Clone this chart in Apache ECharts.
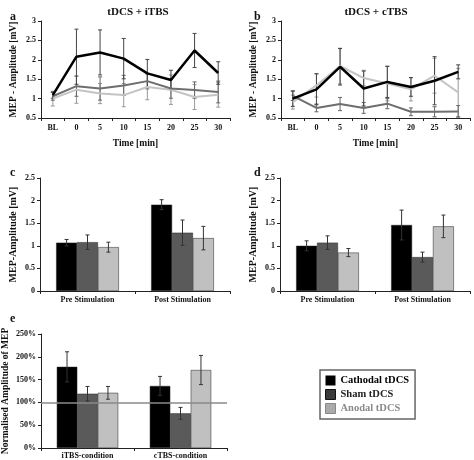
<!DOCTYPE html>
<html>
<head>
<meta charset="utf-8">
<script src="https://cdn.jsdelivr.net/npm/echarts@6/dist/echarts.min.js"></script>
<style>
html, body { margin: 0; padding: 0; background: #fff; }
#main { width: 474px; height: 460px; }
</style>
</head>
<body>
<div id="main"></div>
<script>
var timeLabels = ['BL', '0', '5', '10', '15', '20', '25', '30'];
var groupNames = ['Cathodal tDCS', 'Sham tDCS', 'Anodal tDCS'];

// a: tDCS + iTBS
var aCath = [1.09, 2.08, 2.19, 2.03, 1.65, 1.48, 2.24, 1.66];
var aCathErr = [0.08, 0.71, 0.58, 0.52, 0.36, 0.25, 0.44, 0.29];
var aSham = [1.06, 1.32, 1.26, 1.34, 1.45, 1.26, 1.22, 1.17];
var aShamErr = [0.1, 0.26, 0.3, 0.26, 0.2, 0.25, 0.21, 0.28];
var aAnod = [1.0, 1.23, 1.13, 1.09, 1.3, 1.23, 1.04, 1.1];
var aAnodErr = [0.19, 0.35, 0.26, 0.3, 0.33, 0.38, 0.32, 0.32];

// b: tDCS + cTBS
var bCath = [1.0, 1.24, 1.82, 1.26, 1.43, 1.3, 1.46, 1.69];
var bCathErr = [0.2, 0.4, 0.47, 0.45, 0.4, 0.24, 0.62, 0.18];
var bSham = [1.07, 0.76, 0.86, 0.76, 0.87, 0.66, 0.66, 0.67];
var bShamErr = [0.12, 0.1, 0.17, 0.14, 0.13, 0.1, 0.13, 0.15];
var bAnod = [0.91, 1.34, 1.84, 1.53, 1.39, 1.24, 1.59, 1.16];
var bAnodErr = [0.18, 0.3, 0.46, 0.2, 0.45, 0.3, 0.45, 0.62];

// c, d: pre / post
var stimLabels = ['Pre Stimulation', 'Post Stimulation'];
var cCath = [1.07, 1.91], cCathErr = [0.07, 0.11];
var cSham = [1.08, 1.29], cShamErr = [0.16, 0.28];
var cAnod = [0.97, 1.17], cAnodErr = [0.11, 0.26];
var dCath = [1.0, 1.46], dCathErr = [0.11, 0.33];
var dSham = [1.07, 0.75], dShamErr = [0.15, 0.11];
var dAnod = [0.85, 1.43], dAnodErr = [0.09, 0.25];

// e: normalised
var condLabels = ['iTBS-condition', 'cTBS-condition'];
var eCath = [178, 136], eCathErr = [33, 21];
var eSham = [119, 76], eShamErr = [16, 13];
var eAnod = [121, 171], eAnodErr = [14, 32];

var FONT = 'Liberation Serif';
var lineColors = ['#000000', '#6e6e6e', '#c4c4c4'];
var barColors = ['#000000', '#5a5a5a', '#c0c0c0'];

var dom = document.getElementById('main');
var myChart = echarts.init(dom);

function errSeries(grid, vals, errs, color, offset) {
    return {
        type: 'custom',
        name: 'err',
        xAxisIndex: grid,
        yAxisIndex: grid,
        silent: true,
        z: 3,
        encode: { x: 0, y: 1 },
        data: vals.map(function (v, i) { return [i, v, errs[i]]; }),
        renderItem: function (params, api) {
            var i = api.value(0), v = api.value(1), e = api.value(2);
            var w = api.size([1, 0])[0];
            var hi = api.coord([i, v + e]);
            var lo = api.coord([i, v - e]);
            var x = hi[0] + offset * w;
            var st = { stroke: color, lineWidth: 1 };
            return {
                type: 'group',
                children: [
                    { type: 'line', shape: { x1: x, y1: hi[1], x2: x, y2: lo[1] }, style: st },
                    { type: 'line', shape: { x1: x - 2, y1: hi[1], x2: x + 2, y2: hi[1] }, style: st },
                    { type: 'line', shape: { x1: x - 2, y1: lo[1], x2: x + 2, y2: lo[1] }, style: st }
                ]
            };
        }
    };
}

function xAxisCat(grid, data, name, margin) {
    return {
        type: 'category',
        gridIndex: grid,
        data: data,
        boundaryGap: true,
        name: name,
        nameLocation: 'middle',
        nameGap: 21,
        nameTextStyle: { fontFamily: FONT, fontWeight: 'bold', fontSize: 9.5, color: '#111' },
        axisLine: { lineStyle: { color: '#222', width: 1 } },
        axisTick: { show: true, length: 3, lineStyle: { color: '#222' } },
        axisLabel: { fontFamily: FONT, fontWeight: 'bold', fontSize: 8, color: '#111', margin: margin }
    };
}

function yAxisVal(grid, min, max, step, name, gap, fmt, nameSize) {
    return {
        type: 'value',
        gridIndex: grid,
        min: min,
        max: max,
        interval: step,
        name: name,
        nameLocation: 'middle',
        nameGap: gap,
        nameTextStyle: { fontFamily: FONT, fontWeight: 'bold', fontSize: nameSize, color: '#111' },
        splitLine: { show: false },
        axisLine: { show: true, lineStyle: { color: '#222', width: 1 } },
        axisTick: { show: true, length: 3, lineStyle: { color: '#222' } },
        axisLabel: { fontFamily: FONT, fontWeight: 'bold', fontSize: 8, color: '#111', margin: 5, formatter: fmt }
    };
}

function lineSeries(grid, name, vals, color, width) {
    return {
        type: 'line',
        name: name,
        xAxisIndex: grid,
        yAxisIndex: grid,
        data: vals,
        symbol: 'none',
        z: 4,
        lineStyle: { color: color, width: width },
        itemStyle: { color: color }
    };
}

function barSeries(grid, name, vals, color) {
    return {
        type: 'bar',
        name: name,
        xAxisIndex: grid,
        yAxisIndex: grid,
        data: vals,
        barWidth: '22%',
        barGap: '0%',
        z: 2,
        itemStyle: { color: color, borderColor: '#222', borderWidth: 0.5 }
    };
}

var series = [];
// a
series.push(errSeries(0, aAnod, aAnodErr, '#999', 0));
series.push(errSeries(0, aSham, aShamErr, '#666', 0));
series.push(errSeries(0, aCath, aCathErr, '#444', 0));
series.push(lineSeries(0, groupNames[2], aAnod, lineColors[2], 2));
series.push(lineSeries(0, groupNames[1], aSham, lineColors[1], 2));
series.push(lineSeries(0, groupNames[0], aCath, lineColors[0], 2.5));
// b
series.push(errSeries(1, bAnod, bAnodErr, '#999', 0));
series.push(errSeries(1, bSham, bShamErr, '#666', 0));
series.push(errSeries(1, bCath, bCathErr, '#444', 0));
series.push(lineSeries(1, groupNames[2], bAnod, lineColors[2], 2));
series.push(lineSeries(1, groupNames[1], bSham, lineColors[1], 2));
series.push(lineSeries(1, groupNames[0], bCath, lineColors[0], 2.5));
// c, d, e bars
var barSets = [
    [2, [cCath, cSham, cAnod], [cCathErr, cShamErr, cAnodErr]],
    [3, [dCath, dSham, dAnod], [dCathErr, dShamErr, dAnodErr]],
    [4, [eCath, eSham, eAnod], [eCathErr, eShamErr, eAnodErr]]
];
barSets.forEach(function (set) {
    for (var k = 0; k < 3; k++) {
        series.push(barSeries(set[0], groupNames[k], set[1][k], barColors[k]));
    }
    for (var k = 0; k < 3; k++) {
        series.push(errSeries(set[0], set[1][k], set[2][k], '#333', (k - 1) * 0.22));
    }
});
// 100% reference line in e
series.push({
    type: 'line',
    name: 'ref',
    xAxisIndex: 4,
    yAxisIndex: 4,
    data: [],
    z: 1,
    silent: true,
    markLine: {
        symbol: 'none',
        silent: true,
        label: { show: false },
        lineStyle: { color: '#8a8a8a', width: 1.5, type: 'solid' },
        data: [{ yAxis: 100 }]
    }
});

var titleFont = { fontFamily: FONT, fontWeight: 'bold', color: '#111' };
function t(text, left, top, size, align) {
    return {
        text: text, left: left, top: top, padding: 0, textAlign: align || 'left',
        textStyle: Object.assign({ fontSize: size }, titleFont)
    };
}

var option = {
    animation: false,
    backgroundColor: '#fff',
    title: [
        t('tDCS + iTBS', 138, 7, 11, 'center'),
        t('tDCS + cTBS', 376, 7, 11, 'center'),
        t('a', 10, 11, 12),
        t('b', 254, 11, 12),
        t('c', 10, 167, 12),
        t('d', 254, 167, 12),
        t('e', 10, 313, 12)
    ],
    legend: {
        left: 320,
        top: 370,
        orient: 'vertical',
        icon: 'rect',
        itemWidth: 10,
        itemHeight: 10,
        itemGap: 3,
        padding: [5, 6, 5, 5],
        borderColor: '#666',
        borderWidth: 1.5,
        selectedMode: false,
        textStyle: { fontFamily: FONT, fontWeight: 'bold', fontSize: 10.5 },
        data: [
            { name: groupNames[0], itemStyle: { color: '#000' }, textStyle: { color: '#000' } },
            { name: groupNames[1], itemStyle: { color: '#3a3a3a', borderColor: '#111', borderWidth: 1 }, textStyle: { color: '#222' } },
            { name: groupNames[2], itemStyle: { color: '#aaaaaa', borderColor: '#888', borderWidth: 1 }, textStyle: { color: '#8a8a8a' } }
        ]
    },
    grid: [
        { left: 41, top: 21, width: 189, height: 97 },
        { left: 281, top: 21, width: 189, height: 97 },
        { left: 40, top: 178, width: 190, height: 113 },
        { left: 280, top: 178, width: 190, height: 113 },
        { left: 40, top: 334, width: 187, height: 114 }
    ],
    xAxis: [
        xAxisCat(0, timeLabels, 'Time [min]', 6),
        xAxisCat(1, timeLabels, 'Time [min]', 6),
        xAxisCat(2, stimLabels, '', 5),
        xAxisCat(3, stimLabels, '', 5),
        xAxisCat(4, condLabels, '', 4)
    ],
    yAxis: [
        yAxisVal(0, 0.5, 3, 0.5, 'MEP - Amplitude [mV]', 22, null, 9.5),
        yAxisVal(1, 0.5, 3, 0.5, 'MEP - Amplitude [mV]', 22, null, 9.5),
        yAxisVal(2, 0, 2.5, 0.5, 'MEP-Amplitude [mV]', 22, null, 10),
        yAxisVal(3, 0, 2.5, 0.5, 'MEP-Amplitude [mV]', 22, null, 10),
        yAxisVal(4, 0, 250, 50, 'Normalised Amplitude of MEP', 30, '{value}%', 9.5)
    ],
    series: series
};

myChart.setOption(option);
</script>
</body>
</html>
